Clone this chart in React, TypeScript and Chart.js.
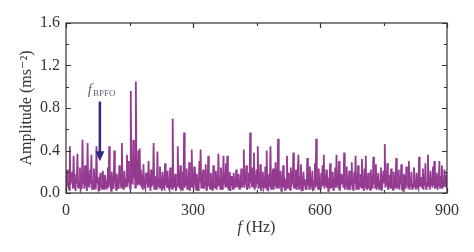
import React, { useEffect, useRef } from "react";
import { Chart, registerables } from "chart.js";

Chart.register(...registerables);

const FREQ_STEP = 3; // Hz between spectrum maxima samples; valleys sit halfway between
const PEAK_AMPS: number[] = [
  0.15,0.22,0.08,0.44,0.12,0.20,0.35,0.06,0.18,0.37,0.10,0.24,0.05,0.50,0.14,0.26,0.08,0.47,0.12,0.22,
  0.36,0.10,0.23,0.07,0.44,0.15,0.09,0.19,0.06,0.21,0.12,0.17,0.05,0.24,0.44,0.11,0.20,0.08,0.40,0.13,
  0.18,0.07,0.26,0.12,0.47,0.09,0.21,0.14,0.36,0.30,0.18,0.96,0.25,0.50,0.35,1.05,0.28,0.40,0.42,0.22,
  0.10,0.27,0.06,0.19,0.13,0.30,0.08,0.22,0.11,0.47,0.16,0.07,0.39,0.14,0.25,0.09,0.20,0.05,0.28,0.12,
  0.21,0.06,0.24,0.10,0.70,0.13,0.18,0.05,0.44,0.15,0.26,0.08,0.20,0.57,0.12,0.23,0.07,0.29,0.14,0.41,
  0.09,0.25,0.12,0.18,0.06,0.30,0.41,0.11,0.22,0.08,0.27,0.15,0.35,0.07,0.19,0.13,0.26,0.05,0.21,0.10,
  0.37,0.14,0.24,0.09,0.35,0.17,0.28,0.35,0.12,0.20,0.16,0.10,0.19,0.13,0.22,0.11,0.18,0.06,0.23,0.09,
  0.41,0.12,0.26,0.07,0.19,0.57,0.14,0.24,0.38,0.10,0.22,0.44,0.08,0.27,0.13,0.20,0.06,0.25,0.40,0.11,
  0.18,0.44,0.09,0.23,0.14,0.29,0.06,0.51,0.12,0.21,0.08,0.26,0.15,0.10,0.35,0.19,0.05,0.24,0.13,0.38,
  0.11,0.22,0.07,0.36,0.16,0.27,0.09,0.20,0.13,0.06,0.33,0.18,0.25,0.08,0.21,0.12,0.28,0.51,0.14,0.23,
  0.07,0.19,0.26,0.36,0.10,0.22,0.15,0.05,0.28,0.12,0.20,0.09,0.24,0.36,0.11,0.30,0.06,0.18,0.14,0.38,
  0.12,0.25,0.08,0.21,0.15,0.29,0.06,0.20,0.35,0.11,0.26,0.09,0.18,0.32,0.07,0.23,0.35,0.13,0.19,0.05,
  0.22,0.10,0.34,0.14,0.27,0.07,0.19,0.12,0.24,0.06,0.21,0.46,0.13,0.28,0.09,0.17,0.23,0.05,0.20,0.11,
  0.33,0.08,0.22,0.14,0.27,0.06,0.18,0.11,0.25,0.09,0.30,0.13,0.20,0.05,0.24,0.12,0.19,0.07,0.34,0.15,
  0.09,0.23,0.12,0.28,0.07,0.36,0.14,0.21,0.10,0.25,0.30,0.11,0.19,0.08,0.30,0.16,0.26,0.13,0.22,0.17,
  0.20,
];
const VALLEY_AMPS: number[] = [
  0.05,0.10,0.03,0.08,0.12,0.04,0.07,0.02,0.09,0.05,0.11,0.03,0.06,0.10,0.04,0.08,0.02,0.07,0.05,0.09,
  0.04,0.08,0.03,0.06,0.10,0.05,0.02,0.07,0.04,0.09,0.03,0.06,0.11,0.05,0.08,0.02,0.06,0.04,0.10,0.03,
  0.07,0.04,0.09,0.05,0.08,0.03,0.06,0.10,0.06,0.10,0.04,0.12,0.08,0.14,0.05,0.11,0.07,0.09,0.08,0.05,
  0.03,0.07,0.04,0.09,0.05,0.11,0.02,0.06,0.08,0.04,0.10,0.03,0.07,0.05,0.09,0.02,0.06,0.04,0.08,0.05,
  0.06,0.03,0.08,0.04,0.10,0.05,0.02,0.07,0.09,0.04,0.06,0.03,0.11,0.05,0.08,0.04,0.07,0.02,0.06,0.09,
  0.04,0.08,0.03,0.06,0.02,0.10,0.05,0.07,0.04,0.09,0.03,0.06,0.08,0.04,0.07,0.02,0.09,0.05,0.03,0.06,
  0.08,0.04,0.07,0.03,0.09,0.05,0.06,0.04,0.03,0.02,0.07,0.04,0.08,0.05,0.09,0.06,0.04,0.07,0.05,0.08,
  0.05,0.09,0.03,0.07,0.04,0.10,0.06,0.08,0.03,0.05,0.09,0.04,0.07,0.02,0.06,0.04,0.08,0.05,0.03,0.07,
  0.06,0.04,0.08,0.03,0.07,0.05,0.10,0.04,0.06,0.02,0.09,0.05,0.03,0.08,0.04,0.07,0.03,0.06,0.09,0.04,
  0.05,0.03,0.07,0.04,0.09,0.06,0.02,0.08,0.05,0.03,0.07,0.04,0.10,0.06,0.03,0.08,0.05,0.07,0.04,0.06,
  0.03,0.06,0.08,0.04,0.07,0.05,0.02,0.09,0.04,0.06,0.03,0.08,0.05,0.07,0.04,0.02,0.06,0.09,0.05,0.03,
  0.07,0.04,0.06,0.03,0.08,0.05,0.02,0.09,0.04,0.06,0.03,0.07,0.05,0.08,0.02,0.06,0.04,0.09,0.05,0.03,
  0.06,0.04,0.09,0.05,0.03,0.07,0.04,0.08,0.02,0.06,0.10,0.05,0.07,0.03,0.06,0.04,0.08,0.03,0.05,0.07,
  0.04,0.06,0.03,0.08,0.05,0.02,0.07,0.04,0.09,0.05,0.03,0.06,0.04,0.08,0.05,0.03,0.07,0.04,0.06,0.08,
  0.05,0.03,0.07,0.04,0.09,0.06,0.03,0.08,0.05,0.07,0.04,0.06,0.03,0.09,0.05,0.08,0.04,0.06,0.07,0.05,
];

const X_TICKS = [0, 300, 600, 900];
const Y_TICKS = [0, 0.4, 0.8, 1.2, 1.6];
const X_TITLE_ITALIC = "f";
const X_TITLE_REST = " (Hz)";
const Y_TITLE = "Amplitude (ms\u207B\u00B2)";
const ARROW_FREQ = 80;
const ARROW_TOP = 0.86;
const ARROW_TIP = 0.3;
const ANNOT_MAIN = "f";
const ANNOT_SUB = "BPFO";

const SERIF = "'Liberation Serif', 'DejaVu Serif', serif";

const framePlugin = {
  id: "frame",
  afterDraw(chart: any) {
    const ctx = chart.ctx as CanvasRenderingContext2D;
    const { left, right, top, bottom } = chart.chartArea;
    const xs = chart.scales.x;
    const ys = chart.scales.y;
    ctx.save();
    ctx.strokeStyle = "#333";
    ctx.lineWidth = 1.2;
    ctx.strokeRect(left, top, right - left, bottom - top);
    for (let v = 0; v <= 900; v += 150) {
      const px = Math.round(xs.getPixelForValue(v)) + 0.5;
      const len = X_TICKS.includes(v) ? 5 : 3;
      ctx.beginPath();
      ctx.moveTo(px, bottom);
      ctx.lineTo(px, bottom - len);
      ctx.moveTo(px, top);
      ctx.lineTo(px, top + len);
      ctx.stroke();
    }
    for (let i = 0; i <= 8; i++) {
      const v = i * 0.2;
      const py = Math.round(ys.getPixelForValue(v)) + 0.5;
      const len = i % 2 === 0 ? 5 : 3;
      ctx.beginPath();
      ctx.moveTo(left, py);
      ctx.lineTo(left + len, py);
      ctx.moveTo(right, py);
      ctx.lineTo(right - len, py);
      ctx.stroke();
    }
    ctx.fillStyle = "#333";
    ctx.textBaseline = "middle";
    ctx.font = `italic 16px ${SERIF}`;
    const wI = ctx.measureText(X_TITLE_ITALIC).width;
    ctx.font = `16px ${SERIF}`;
    const wR = ctx.measureText(X_TITLE_REST).width;
    const cx = (left + right) / 2;
    const sx = cx - (wI + wR) / 2;
    ctx.textAlign = "left";
    ctx.font = `italic 16px ${SERIF}`;
    ctx.fillText(X_TITLE_ITALIC, sx, 228);
    ctx.font = `16px ${SERIF}`;
    ctx.fillText(X_TITLE_REST, sx + wI, 228);

    ctx.save();
    ctx.translate(27, (top + bottom) / 2);
    ctx.rotate(-Math.PI / 2);
    ctx.textAlign = "center";
    ctx.font = `16px ${SERIF}`;
    ctx.fillText(Y_TITLE, 0, 0);
    ctx.restore();

    const ax = xs.getPixelForValue(ARROW_FREQ);
    const aTop = ys.getPixelForValue(ARROW_TOP);
    const aTip = ys.getPixelForValue(ARROW_TIP);
    ctx.strokeStyle = "#2b2a7e";
    ctx.fillStyle = "#2b2a7e";
    ctx.lineWidth = 2.5;
    ctx.beginPath();
    ctx.moveTo(ax, aTop);
    ctx.lineTo(ax, aTip - 8);
    ctx.stroke();
    ctx.beginPath();
    ctx.moveTo(ax - 4.5, aTip - 10);
    ctx.lineTo(ax + 4.5, aTip - 10);
    ctx.lineTo(ax, aTip);
    ctx.closePath();
    ctx.fill();

    ctx.fillStyle = "#6b5f7e";
    ctx.textAlign = "left";
    ctx.textBaseline = "alphabetic";
    ctx.font = `italic 15px ${SERIF}`;
    const lx = ax - 12;
    const ly = aTop - 8;
    ctx.fillText(ANNOT_MAIN, lx, ly);
    const fw = ctx.measureText(ANNOT_MAIN).width;
    ctx.font = `9px ${SERIF}`;
    ctx.fillText(ANNOT_SUB, lx + fw + 1, ly + 2);
    ctx.restore();
  },
};

export default function App() {
  const ref = useRef<HTMLCanvasElement | null>(null);
  useEffect(() => {
    document.body.style.margin = "0";
    const canvas = ref.current;
    if (!canvas) return;
    const points: { x: number; y: number }[] = [];
    PEAK_AMPS.forEach((a, i) => {
      points.push({ x: i * FREQ_STEP, y: a });
      if (i < VALLEY_AMPS.length) points.push({ x: i * FREQ_STEP + FREQ_STEP / 2, y: VALLEY_AMPS[i] });
    });
    const chart = new Chart(canvas, {
      type: "line",
      data: {
        datasets: [
          {
            data: points,
            borderColor: "#943b91",
            borderWidth: 1.8,
            pointRadius: 0,
            tension: 0,
            fill: false,
          },
        ],
      },
      options: {
        animation: false,
        responsive: false,
        devicePixelRatio: 1,
        layout: { padding: { left: 0, top: 23, right: 27, bottom: 0 } },
        plugins: { legend: { display: false }, tooltip: { enabled: false } },
        scales: {
          x: {
            type: "linear",
            min: 0,
            max: 900,
            afterFit: (s: any) => {
              s.height = 59;
            },
            afterBuildTicks: (s: any) => {
              s.ticks = X_TICKS.map((v) => ({ value: v }));
            },
            grid: { display: false, drawTicks: false },
            border: { display: false },
            ticks: {
              padding: 8,
              color: "#333",
              font: { family: SERIF, size: 16 },
              maxRotation: 0,
              callback: (v: any) => String(v),
            },
          },
          y: {
            type: "linear",
            min: 0,
            max: 1.6,
            afterFit: (s: any) => {
              s.width = 66;
            },
            afterBuildTicks: (s: any) => {
              s.ticks = Y_TICKS.map((v) => ({ value: v }));
            },
            grid: { display: false, drawTicks: false },
            border: { display: false },
            ticks: {
              padding: 6,
              color: "#333",
              font: { family: SERIF, size: 16 },
              callback: (v: any) => Number(v).toFixed(1),
            },
          },
        },
      },
      plugins: [framePlugin],
    });
    return () => chart.destroy();
  }, []);
  return (
    <div style={{ position: "fixed", left: 0, top: 0, width: 474, height: 252, background: "#fff" }}>
      <canvas ref={ref} width={474} height={252} style={{ width: 474, height: 252, display: "block" }} />
    </div>
  );
}
